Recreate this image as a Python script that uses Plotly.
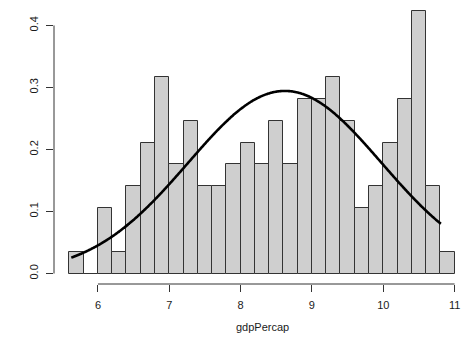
import numpy as np
import plotly.graph_objects as go

# Histogram of log GDP per capita (bins of width 0.2 from 5.6 to 11.0)
bin_starts = [5.6, 5.8, 6.0, 6.2, 6.4, 6.6, 6.8, 7.0, 7.2, 7.4, 7.6, 7.8, 8.0, 8.2,
              8.4, 8.6, 8.8, 9.0, 9.2, 9.4, 9.6, 9.8, 10.0, 10.2, 10.4, 10.6, 10.8]
counts = [1, 0, 3, 1, 4, 6, 9, 5, 7, 4, 4, 5, 6, 5,
          7, 5, 8, 8, 9, 7, 3, 4, 6, 8, 12, 4, 1]
bin_width = 0.2

# Fitted normal curve parameters, drawn across the data range
norm_mean = 8.62
norm_sd = 1.355
data_min = 5.626
data_max = 10.807

x_ticks = [6, 7, 8, 9, 10, 11]
y_ticks = [0.0, 0.1, 0.2, 0.3, 0.4]
x_title = "gdpPercap"

n = sum(counts)
density = [c / (n * bin_width) for c in counts]
centers = [b + bin_width / 2 for b in bin_starts]

xs = np.linspace(data_min, data_max, 301)
ys = np.exp(-0.5 * ((xs - norm_mean) / norm_sd) ** 2) / (norm_sd * np.sqrt(2 * np.pi))

# R-style padded ranges (4% on each side)
x_lo, x_hi = bin_starts[0], bin_starts[-1] + bin_width
x_pad = 0.04 * (x_hi - x_lo)
y_hi = max(density)
y_pad = 0.04 * y_hi

font = dict(family="Liberation Sans, Arial, Helvetica, sans-serif", size=11, color="#1a1a1a")
axis_col = "#333333"

fig = go.Figure()
fig.add_trace(go.Bar(
    x=centers, y=density, width=bin_width,
    marker=dict(color="#cfcfcf", line=dict(color="#333333", width=1)),
    hoverinfo="skip", showlegend=False,
))
fig.add_trace(go.Scatter(
    x=xs, y=ys, mode="lines",
    line=dict(color="black", width=2.6, shape="spline", smoothing=0.6),
    hoverinfo="skip", showlegend=False,
))

fig.update_layout(
    width=474, height=338,
    margin=dict(l=54, r=4, t=1, b=54),
    paper_bgcolor="white", plot_bgcolor="white",
    font=font,
    bargap=0,
    xaxis=dict(
        range=[x_lo - x_pad, x_hi + x_pad],
        tickvals=x_ticks, ticktext=[str(v) for v in x_ticks],
        ticks="outside", ticklen=7, tickwidth=1, tickcolor=axis_col,
        showline=False, showgrid=False, zeroline=False,
        ticklabelstandoff=4,
    ),
    yaxis=dict(
        range=[-y_pad, y_hi + y_pad],
        tickvals=y_ticks, ticktext=[f"{v:.1f}" for v in y_ticks],
        ticks="outside", ticklen=7, tickwidth=1, tickcolor=axis_col,
        tickangle=-90,
        showline=False, showgrid=False, zeroline=False,
        ticklabelstandoff=4,
    ),
    shapes=[
        dict(type="line", xref="x", yref="paper", x0=x_ticks[0], x1=x_ticks[-1], y0=0, y1=0,
             line=dict(color=axis_col, width=1)),
        dict(type="line", xref="paper", yref="y", x0=0, x1=0, y0=y_ticks[0], y1=y_ticks[-1],
             line=dict(color=axis_col, width=1)),
    ],
    annotations=[
        dict(text=x_title, xref="paper", yref="paper", x=0.5, y=-0.151,
             xanchor="center", yanchor="middle", showarrow=False, font=font),
    ],
)

fig.write_html("out.html")
